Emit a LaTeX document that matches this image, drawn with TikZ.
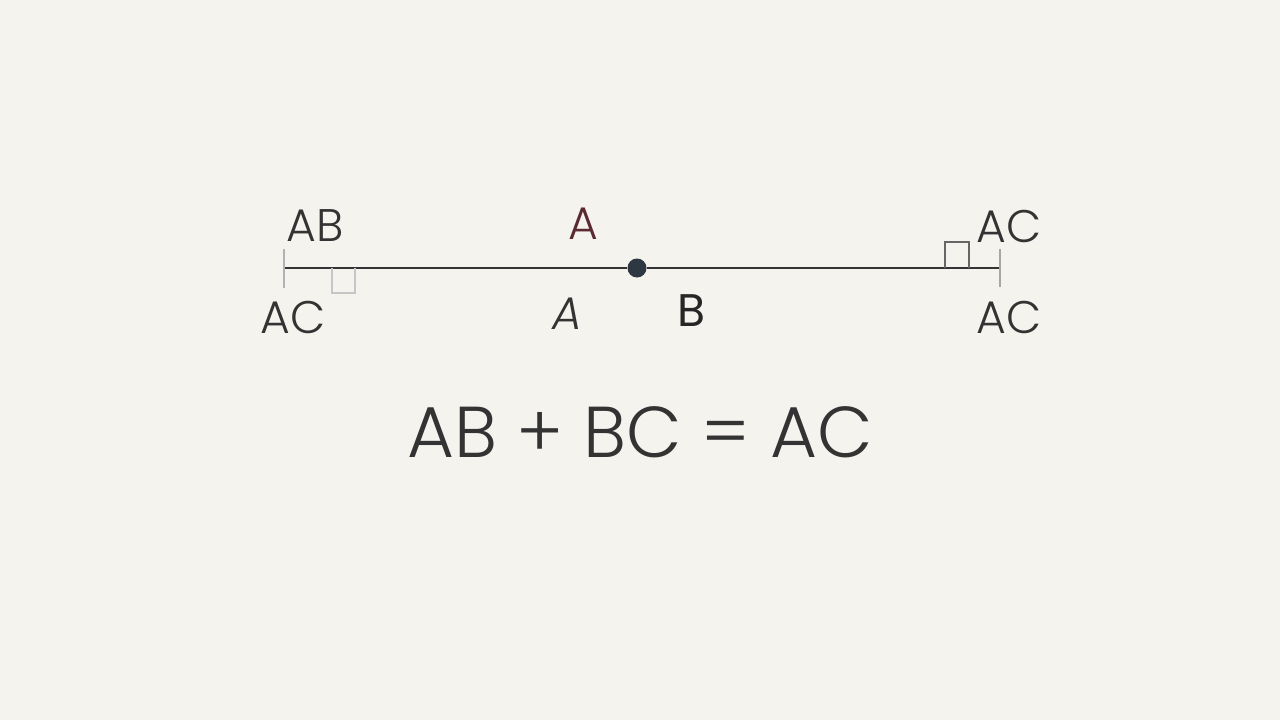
\documentclass[tikz,border=0pt]{standalone}
\usepackage{fontspec}
\setmainfont{Poppins}[UprightFont=* Light, ItalicFont=* Light Italic]
\newfontfamily\regfont{Poppins}
\usepackage{tikz}
\definecolor{paper}{HTML}{F5F3EE}
\definecolor{ink}{HTML}{333333}
\definecolor{dotink}{HTML}{2E3842}
\definecolor{wine}{HTML}{5A2A30}

\begin{document}
\begin{tikzpicture}[x=0.02cm, y=-0.02cm,
  lbl/.style={text=ink, font=\fontsize{26}{30}\selectfont, inner sep=0pt},
  eqn/.style={text=ink, font=\fontsize{41}{46}\selectfont, inner sep=0pt}]
\fill[paper] (0,0) rectangle (1280,720);
\useasboundingbox (0,0) rectangle (1280,720);

\coordinate (A) at (284,268);
\coordinate (C) at (1000,268);
\node[circle, fill=dotink, inner sep=0pt, minimum size=0.38cm] (B) at (637,268) {};

\draw[ink, line width=1.7pt] (A) -- (B) -- (C);
\draw[gray!60, line width=0.6pt] (284,249) -- (A) -- (284,288);
\draw[gray!70, line width=0.6pt] (1000,249) -- (C) -- (1000,287);

% right-angle marks
\draw[gray!45, line width=0.7pt] (332,268) -- (332,293) -- (355,293) -- (355,268);
\draw[gray!80!black, line width=0.7pt] (945,268) -- (945,242) -- (969,242) -- (969,268);

\node[lbl] (ab) at (315,226) {AB};
\node[lbl, text=wine] (atop) at (583,224) {A};
\node[lbl] (acr) at (1009,226) {AC};
\node[lbl] (acl) at (293,317) {AC};
\node[lbl, font=\fontsize{26}{30}\selectfont\itshape] (abot) at (567,314) {A};
\node[lbl, text=black!85, font=\fontsize{26}{30}\regfont] (bbot) at (691,311) {B};
\node[lbl] (acb) at (1009,317) {AC};

\node[eqn] (sum) at (640,432) {AB + BC = AC};
\end{tikzpicture}
\end{document}
